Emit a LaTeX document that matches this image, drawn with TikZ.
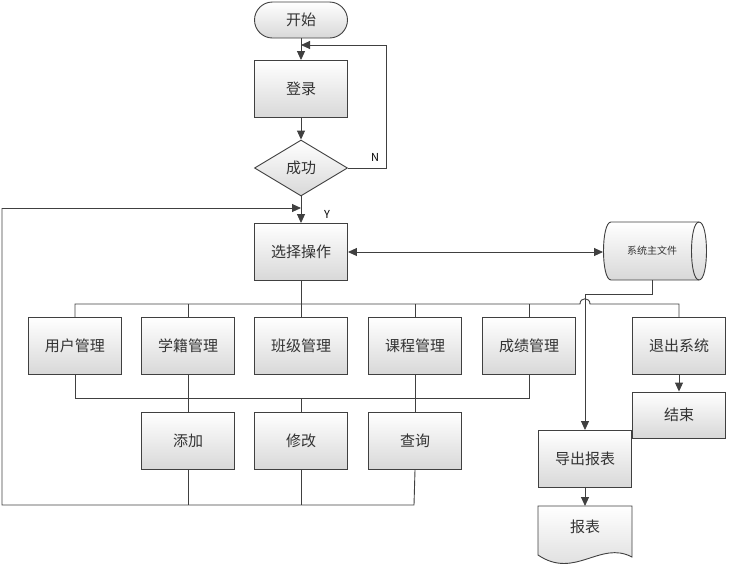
\documentclass[tikz,border=0pt]{standalone}
\usepackage{fontspec}
\setmainfont{Noto Sans CJK SC}
\usetikzlibrary{shapes.geometric,arrows.meta}

\definecolor{linecol}{HTML}{404040}
\definecolor{textcol}{HTML}{333333}
\definecolor{boxbot}{HTML}{D8D8D8}

\tikzset{
  box/.style={draw=linecol,line width=0.9pt,rectangle,minimum width=93pt,minimum height=57pt,
    top color=white,bottom color=boxbot,text=textcol,font=\fontsize{15}{15}\selectfont,inner sep=0pt},
  term/.style={box,minimum height=36pt,rounded corners=18pt},
  decision/.style={box,diamond,aspect=1.66,minimum width=93pt,minimum height=56pt},
  store/.style={rectangle,minimum width=103pt,minimum height=58pt,inner sep=0pt,
    text=textcol,font=\fontsize{10}{10}\selectfont},
  line/.style={draw=linecol,line width=0.9pt},
  arrow/.style={line,-{Triangle[length=9pt,width=8pt]}},
  tag/.style={text=black,font=\fontsize{11}{11}\selectfont}
}

\begin{document}
\begin{tikzpicture}[x=1pt,y=-1pt]
\useasboundingbox (0,0) rectangle (729,566);

% Main column
\node[term] (start) at (301,20) {开始};
\node[box] (login) at (301,89) {登录};
\node[decision] (ok) at (301,168) {成功};
\node[box] (choose) at (301,252) {选择操作};

% Data file (cylinder drawn by hand)
\path[line,top color=white,bottom color=boxbot]
  (611,222) -- (699,222) .. controls (709,222) and (709,280) .. (699,280) -- (611,280)
  .. controls (601,280) and (601,222) .. (611,222) -- cycle;
\draw[line] (699,222) .. controls (689,222) and (689,280) .. (699,280);
\node[store] (file) at (652,251) {系统主文件};

% Modules
\node[box] (user) at (75,346) {用户管理};
\node[box] (student) at (188,346) {学籍管理};
\node[box] (class) at (301,346) {班级管理};
\node[box] (course) at (415,346) {课程管理};
\node[box] (grade) at (529,346) {成绩管理};
\node[box] (quit) at (679,346) {退出系统};
\node[box,minimum height=46pt] (end) at (679,415) {结束};

% Operations
\node[box] (add) at (188,441) {添加};
\node[box] (modify) at (301,441) {修改};
\node[box] (query) at (415,441) {查询};

% Report
\node[box] (export) at (585,459) {导出报表};
\path[line,top color=white,bottom color=boxbot]
  (538,506) -- (632,506) -- (632,557) .. controls (600,540) and (575,580) .. (538,555) -- cycle;
\node[text=textcol,font=\fontsize{15}{15}\selectfont] (report) at (585,527) {报表};
\coordinate (reporttop) at (585,506);

% Login loop
\coordinate (loopin) at (301,45);
\draw[arrow] (start) -- (login);
\draw[arrow] (login) -- (ok);
\draw[arrow] (ok.east) -- (386,168) -- (386,45) -- (loopin);
\node[tag] at (375,157) {N};
\draw[arrow] (ok) -- (choose);
\node[tag] at (327,214) {Y};

% Return loop
\coordinate (backin) at (301,208);
\draw[line] (query.south) -- (414,505) -- (2,505) -- (2,208);
\draw[arrow] (2,208) -- (backin);
\draw[line] (add.south) -- (add.south |- 0,505);
\draw[line] (modify.south) -- (modify.south |- 0,505);

% Data file link
\draw[line,{Triangle[length=9pt,width=8pt]}-{Triangle[length=9pt,width=8pt]}] (choose) -- (603,252);

% Upper bus
\coordinate (bus) at (301,304);
\draw[line] (choose) -- (bus);
\draw[line] (user.north) -- (75,304) -- (580,304) .. controls (580,297) and (590,297) .. (590,304) -- (679,304) -- (quit.north);
\foreach \n in {student,class,course,grade}
  \draw[line] (\n.north) -- (\n.north |- bus);

% Lower bus
\draw[line] (user.south) -- (75,398) -- (529,398) -- (grade.south);
\draw[line] (student) -- (add);
\draw[line] (modify.north) -- (modify.north |- 0,398);
\draw[line] (course) -- (query);

% Export and exit
\draw[arrow] (file.south) -- (file.south |- 0,294) -- (585,294) -- (export.north);
\draw[arrow] (quit) -- (end);
\draw[arrow] (export) -- (reporttop);
\end{tikzpicture}
\end{document}
